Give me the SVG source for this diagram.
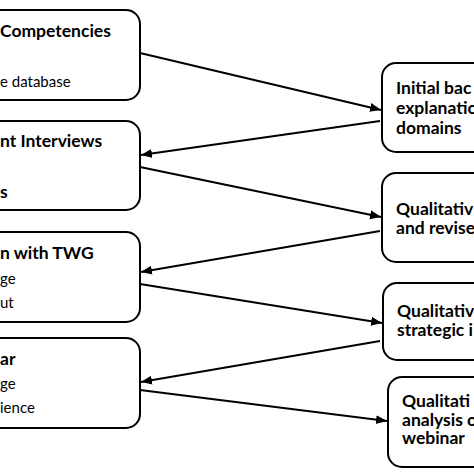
<svg xmlns="http://www.w3.org/2000/svg" width="474" height="474" viewBox="0 0 474 474">
<style>
.box{fill:#fff;stroke:#000;stroke-width:2}
.t{font-family:Lato,"Liberation Sans",sans-serif;fill:#000}
.b{font-weight:bold;font-size:17.5px}
.r{font-size:15px}
.c{stroke:#000;stroke-width:2;fill:none;marker-end:url(#ah)}
</style>
<defs>
<marker id="ah" markerUnits="userSpaceOnUse" markerWidth="12" markerHeight="10" refX="11" refY="4.5" orient="auto">
<path d="M0,0 L11,4.5 L0,9 z" fill="#000"/>
</marker>
</defs>
<rect width="474" height="474" fill="#fff"/>
<g id="n1"><rect class="box" x="-60" y="10" width="200" height="90" rx="14"/>
<text class="t b" x="0" y="37">Competencies</text>
<text class="t r" x="0" y="87">e database</text></g>
<g id="n2"><rect class="box" x="-60" y="121" width="200" height="89" rx="14"/>
<text class="t b" x="0" y="147">nt Interviews</text>
<text class="t b" x="0" y="198">s</text></g>
<g id="n3"><rect class="box" x="-60" y="232" width="200" height="90" rx="14"/>
<text class="t b" x="0" y="259">n with TWG</text>
<text class="t r" x="0" y="284">ge</text>
<text class="t r" x="0" y="308">ut</text></g>
<g id="n4"><rect class="box" x="-60" y="338" width="200" height="90" rx="14"/>
<text class="t b" x="0" y="365">ar</text>
<text class="t r" x="0" y="389">ge</text>
<text class="t r" x="0" y="413">ience</text></g>
<g id="nA"><rect class="box" x="382" y="63" width="160" height="89" rx="14"/>
<text class="t b" x="396" y="94">Initial bac</text>
<text class="t b" x="396" y="114">explanatio</text>
<text class="t b" x="396" y="134">domains</text></g>
<g id="nB"><rect class="box" x="382" y="173" width="160" height="89" rx="14"/>
<text class="t b" x="396" y="215">Qualitativ</text>
<text class="t b" x="396" y="234">and revise</text></g>
<g id="nC"><rect class="box" x="383" y="283" width="160" height="77" rx="14"/>
<text class="t b" x="397" y="317">Qualitativ</text>
<text class="t b" x="397" y="336">strategic i</text></g>
<g id="nD"><rect class="box" x="388" y="377" width="160" height="90" rx="14"/>
<text class="t b" x="402" y="407">Qualitati</text>
<text class="t b" x="402" y="426">analysis o</text>
<text class="t b" x="402" y="444">webinar</text></g>
<g id="connectors">
<line class="c" x1="140" y1="53" x2="381" y2="110"/>
<line class="c" x1="380" y1="121" x2="141" y2="155"/>
<line class="c" x1="140" y1="167" x2="381" y2="217"/>
<line class="c" x1="380" y1="231" x2="141" y2="272"/>
<line class="c" x1="140" y1="284" x2="382" y2="323"/>
<line class="c" x1="380" y1="341" x2="141" y2="382"/>
<line class="c" x1="140" y1="390" x2="387" y2="421"/>
</g>
</svg>
